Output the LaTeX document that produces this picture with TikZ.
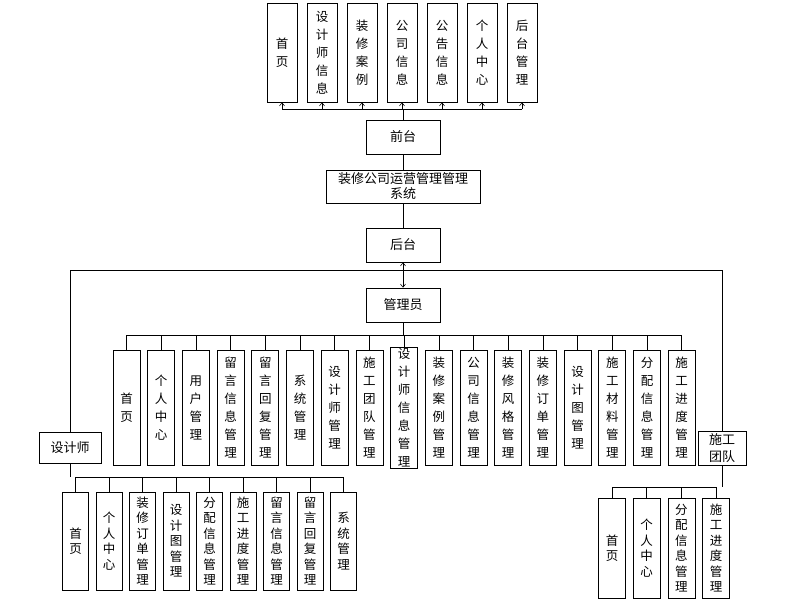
\documentclass[tikz,border=0pt]{standalone}
\usepackage{fontspec}
\setmainfont{Noto Sans CJK SC}
\usetikzlibrary{arrows.meta}
\tikzset{
  box/.style={rectangle, draw, thick, fill=white, inner sep=1pt, font=\fontsize{13}{15}\selectfont},
  vbox/.style={box, minimum width=27pt, text width=14pt, align=center, font=\fontsize{12.5}{18}\selectfont},
  link/.style={draw, semithick},
  uparrow/.style={draw, semithick, -{Straight Barb[length=3pt,width=5pt]}}
  }
\begin{document}
\begin{tikzpicture}[x=1pt,y=-1pt]
	% Frame
	\useasboundingbox (0,0) rectangle (794,607);

	% Front
	\foreach \t [count=\i from 0] in {{首\\页}, {设\\计\\师\\信\\息}, {装\\修\\案\\例}, {公\\司\\信\\息}, {公\\告\\信\\息}, {个\\人\\中\\心}, {后\\台\\管\\理}}
		\node[vbox, minimum width=30pt, minimum height=99pt] (front\i) at (282+40*\i, 52.5) {\t};
	\node[box, minimum width=74pt, minimum height=34pt] (qiantai) at (403, 137) {前台};
	\node[box, minimum width=154pt, minimum height=33pt, text width=150pt, align=center] (system) at (403, 186.5) {装修公司运营管理管理\\系统};
	\node[box, minimum width=74pt, minimum height=34pt] (houtai) at (403, 245) {后台};

	\coordinate (fhub) at (403, 109);
	\draw [link] (qiantai) -- (fhub);
	\foreach \i in {0,...,6}
		\draw [uparrow] (fhub -| front\i) -- (front\i.south);
	\draw [link] (fhub -| front0) -- (fhub -| front6);
	\draw [link] (qiantai) -- (system);
	\draw [link] (system) -- (houtai);

	% Roles
	\coordinate (bhub) at (403, 270);
	\node[box, minimum width=74pt, minimum height=34pt] (admin) at (403, 305) {管理员};
	\node[box, minimum width=62pt, minimum height=31pt] (designer) at (70, 447.5) {设计师};
	\node[box, minimum width=48pt, minimum height=34pt, text width=40pt, align=center, font=\fontsize{13}{17}\selectfont] (team) at (722, 448) {施工\\团队};
	\draw [uparrow] (bhub) -- (houtai);
	\draw [uparrow] (bhub) -- (admin);
	\draw [link] (designer) -- (designer |- bhub) -- (team |- bhub) -- (team);

	% Admin modules
	\foreach \t [count=\i from 0] in {{首\\页}, {个\\人\\中\\心}, {用\\户\\管\\理}, {留\\言\\信\\息\\管\\理}, {留\\言\\回\\复\\管\\理}, {系\\统\\管\\理}, {设\\计\\师\\管\\理}, {施\\工\\团\\队\\管\\理}, {设\\计\\师\\信\\息\\管\\理}, {装\\修\\案\\例\\管\\理}, {公\\司\\信\\息\\管\\理}, {装\\修\\风\\格\\管\\理}, {装\\修\\订\\单\\管\\理}, {设\\计\\图\\管\\理}, {施\\工\\材\\料\\管\\理}, {分\\配\\信\\息\\管\\理}, {施\\工\\进\\度\\管\\理}}
		\node[vbox, minimum height=115pt] (adm\i) at (126.5+34.7*\i, 407.5) {\t};
	\coordinate (ahub) at (403, 335);
	\draw [link] (admin) -- (ahub);
	\draw [link] (ahub -| adm0) -- (ahub -| adm16);
	\foreach \i in {0,...,16}
		\draw [link] (ahub -| adm\i) -- (adm\i);

	% Designer modules
	\foreach \t [count=\i from 0] in {{首\\页}, {个\\人\\中\\心}, {装\\修\\订\\单\\管\\理}, {设\\计\\图\\管\\理}, {分\\配\\信\\息\\管\\理}, {施\\工\\进\\度\\管\\理}, {留\\言\\信\\息\\管\\理}, {留\\言\\回\\复\\管\\理}, {系\\统\\管\\理}}
		\node[vbox, minimum width=26pt, minimum height=98pt, font=\fontsize{12.5}{15.5}\selectfont] (des\i) at (75.5+33.5*\i, 541) {\t};
	\coordinate (dhub) at (70, 477);
	\draw [link] (designer) -- (dhub);
	\draw [link] (dhub -| des0) -- (dhub -| des8);
	\foreach \i in {0,...,8}
		\draw [link] (dhub -| des\i) -- (des\i);

	% Team modules
	\foreach \t [count=\i from 0] in {{首\\页}, {个\\人\\中\\心}, {分\\配\\信\\息\\管\\理}, {施\\工\\进\\度\\管\\理}}
		\node[vbox, minimum height=100pt, font=\fontsize{12.5}{15.5}\selectfont] (tm\i) at (612+34.7*\i, 548) {\t};
	\coordinate (thub) at (722, 487);
	\draw [link] (team) -- (thub);
	\draw [link] (thub -| tm0) -- (thub -| tm3);
	\foreach \i in {0,...,3}
		\draw [link] (thub -| tm\i) -- (tm\i);

\end{tikzpicture}
\end{document}
